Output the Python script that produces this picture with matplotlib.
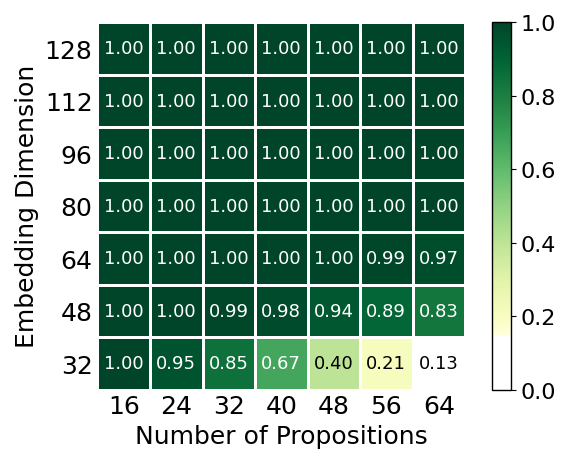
import numpy as np
import matplotlib.pyplot as plt
from matplotlib.colors import LinearSegmentedColormap

propositions = [16, 24, 32, 40, 48, 56, 64]
dims = [128, 112, 96, 80, 64, 48, 32]
acc = np.array([
    [1.00, 1.00, 1.00, 1.00, 1.00, 1.00, 1.00],
    [1.00, 1.00, 1.00, 1.00, 1.00, 1.00, 1.00],
    [1.00, 1.00, 1.00, 1.00, 1.00, 1.00, 1.00],
    [1.00, 1.00, 1.00, 1.00, 1.00, 1.00, 1.00],
    [1.00, 1.00, 1.00, 1.00, 1.00, 0.99, 0.97],
    [1.00, 1.00, 0.99, 0.98, 0.94, 0.89, 0.83],
    [1.00, 0.95, 0.85, 0.67, 0.40, 0.21, 0.13],
])

base = plt.get_cmap("YlGn")
cols = [(0.0, "white"), (0.14, "white"), (0.15, "#ffffd9")]
for v in np.linspace(0.2, 1.0, 9):
    cols.append((v, base(0.05 + 0.95 * (v - 0.15) / 0.85)))
cmap = LinearSegmentedColormap.from_list("ylgn_w", cols)

fig, ax = plt.subplots(figsize=(5.71, 4.64), dpi=100)
mesh = ax.pcolormesh(acc[::-1], cmap=cmap, vmin=0, vmax=1, edgecolors="white", linewidth=2)
for i in range(len(dims)):
    for j in range(len(propositions)):
        v = acc[i, j]
        ax.text(j + 0.5, len(dims) - i - 0.5, f"{v:.2f}", ha="center", va="center",
                fontsize=13, color="white" if v > 0.5 else "black")
ax.set_xticks(np.arange(len(propositions)) + 0.5)
ax.set_xticklabels(propositions, fontsize=18)
ax.set_yticks(np.arange(len(dims)) + 0.5)
ax.set_yticklabels(dims[::-1], fontsize=18)
ax.tick_params(length=0)
for s in ax.spines.values():
    s.set_visible(False)
ax.set_aspect("equal")
ax.set_xlabel("Number of Propositions", fontsize=18)
ax.set_ylabel("Embedding Dimension", fontsize=18)
cb = fig.colorbar(mesh, ax=ax, fraction=0.05, pad=0.06)
cb.ax.tick_params(labelsize=16)
cb.outline.set_linewidth(1)
plt.tight_layout()
plt.savefig("out.png")
